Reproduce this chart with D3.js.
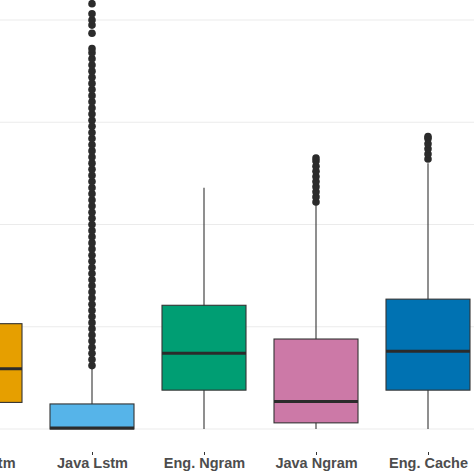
<!DOCTYPE html><html><head><meta charset="utf-8"><script src="https://cdn.jsdelivr.net/npm/d3@7"></script>
<style>body{margin:0;background:#fff}</style></head><body><svg id="c" width="474" height="474"></svg>
<script>
const categories=["Eng. Lstm","Java Lstm","Eng. Ngram","Java Ngram","Eng. Cache"];
const colors=["#E69F00","#56B4E9","#009E73","#CC79A7","#0072B2"];
const whiskerLow=[0,0,0,0,0];
const q1=[0.26,0,0.38,0.06,0.38];
const median=[0.59,0.01,0.74,0.27,0.76];
const q3=[1.03,0.245,1.21,0.88,1.27];
const whiskerHigh=[2.1,0.6,2.36,2.2,2.6];
const yTicks=[0,1,2,3,4];
const outliers=[
 [],
 [0.62,0.68,0.74,0.8,0.86,0.92,0.98,1.04,1.1,1.16,1.22,1.28,1.34,1.4,1.46,1.52,1.58,1.64,1.7,1.76,1.82,1.88,1.94,2.0,2.06,2.12,2.18,2.24,2.3,2.36,2.42,2.48,2.54,2.6,2.66,2.72,2.78,2.84,2.9,2.96,3.02,3.08,3.14,3.2,3.26,3.32,3.38,3.44,3.5,3.56,3.62,3.68,3.72,3.87,3.95,4.0,4.06,4.16],
 [],
 [2.22,2.27,2.32,2.37,2.42,2.47,2.52,2.57,2.62,2.65],
 [2.64,2.69,2.74,2.79,2.84,2.86]
];
const svg=d3.select("#c");
const y=d3.scaleLinear().domain([0,4]).range([429,20]);
const x=d3.scalePoint().domain(categories).range([-20,428]);
const bw=84;
svg.append("g").selectAll("line").data(yTicks).join("line")
 .attr("x1",0).attr("x2",474).attr("y1",d=>y(d)).attr("y2",d=>y(d))
 .attr("stroke","#ebebeb").attr("stroke-width",1.2);
const g=svg.append("g");
categories.forEach((c,i)=>{
 const cx=x(c);
 g.append("line").attr("x1",cx).attr("x2",cx).attr("y1",y(whiskerLow[i])).attr("y2",y(whiskerHigh[i])).attr("stroke","#333").attr("stroke-width",1.1);
 g.append("rect").attr("x",cx-bw/2).attr("width",bw).attr("y",y(q3[i])).attr("height",y(q1[i])-y(q3[i]))
  .attr("fill",colors[i]).attr("stroke","#333").attr("stroke-width",1.1);
 g.append("line").attr("x1",cx-bw/2).attr("x2",cx+bw/2).attr("y1",y(median[i])).attr("y2",y(median[i])).attr("stroke","#2b2b2b").attr("stroke-width",3);
 g.selectAll(null).data(outliers[i]).join("circle").attr("cx",cx).attr("cy",d=>y(d)).attr("r",3.8).attr("fill","#2b2b2b");
});
const ax=svg.append("g").attr("transform","translate(0,452)").call(d3.axisBottom(x).tickSize(3).tickPadding(3));
ax.select(".domain").remove();
ax.selectAll(".tick line").attr("stroke","#333");
ax.selectAll("text").attr("font-family","Liberation Sans, Arial, sans-serif").attr("font-weight","bold").attr("font-size",14.5).attr("fill","#4d4d4d");
</script></body></html>
